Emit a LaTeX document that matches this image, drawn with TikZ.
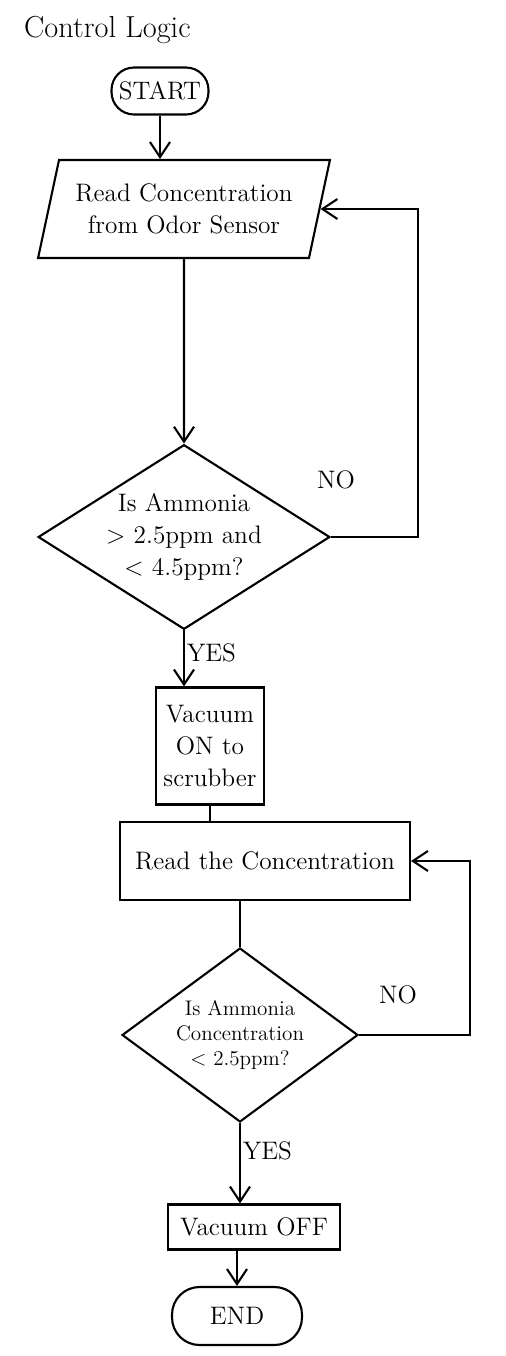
\documentclass[tikz,border=0pt]{standalone}
\usepackage{fontspec}
\usetikzlibrary{shapes.geometric,arrows.meta,positioning}
\begin{document}
\begin{tikzpicture}
[x=0.02cm,y=-0.02cm,%
  terminaldecorate/.style={shape=rectangle,draw,line width=1.2pt,font=\Large,inner sep=2pt},%
  iodecorate/.style={shape=trapezium,trapezium left angle=70,trapezium right angle=110,%
    trapezium stretches,draw,line width=1.2pt,font=\Large,align=center,inner sep=0pt},%
  processdecorate/.style={shape=rectangle,draw,line width=1.2pt,font=\Large,align=center,inner sep=2pt},%
  decisiondecorate/.style={shape=diamond,draw,line width=1.2pt,align=center,inner sep=0pt},%
  linedecorate/.style={-,line width=1.2pt},%
  arrowdecorate/.style={-{Straight Barb[length=3mm,width=4mm]},line width=1.2pt},%
  labeldecorate/.style={font=\Large,inner sep=1pt}]
\useasboundingbox (0,0) rectangle (505,1356);
%% title
\node (title) [anchor=west,font=\LARGE] at (18,30) {Control Logic};
%% nodes of the first loop
\node (start) [terminaldecorate,rounded corners=0.45cm,minimum width=1.94cm,minimum height=0.94cm]
  at (160,91) {START};
\node (readodor) [iodecorate,minimum width=5.84cm,minimum height=1.96cm]
  at (184,209) {Read Concentration\\from Odor Sensor};
\node (check1) [decisiondecorate,font=\Large,shape aspect=1.58,minimum width=5.74cm,minimum height=3.64cm]
  at (184,537) {Is Ammonia\\$>$ 2.5ppm and\\$<$ 4.5ppm?};
\coordinate (loop1) at (418,360);
\node (no1) [labeldecorate] at (336,480) {NO};
%% nodes of the second loop
\node (vacon) [processdecorate,minimum width=2.16cm,minimum height=2.34cm]
  at (210,746) {Vacuum\\ON to\\scrubber};
\node (readconc) [processdecorate,minimum width=5.8cm,minimum height=1.56cm]
  at (265,861) {Read the Concentration};
\node (check2) [decisiondecorate,font=\large,shape aspect=1.36,minimum width=4.72cm,minimum height=3.48cm]
  at (240,1035) {Is Ammonia\\Concentration\\$<$ 2.5ppm?};
\coordinate (loop2) at (470,940);
\node (no2) [labeldecorate] at (398,995) {NO};
%% last nodes
\node (vacoff) [processdecorate,minimum width=3.44cm,minimum height=0.9cm]
  at (254,1227) {Vacuum OFF};
\node (finish) [terminaldecorate,rounded corners=0.55cm,minimum width=2.6cm,minimum height=1.16cm]
  at (237,1316) {END};
%% connectors
\draw[arrowdecorate] (start.south) -- (start.south |- readodor.north);
\draw[arrowdecorate] (readodor.south) -- (check1.north);
\draw[arrowdecorate] (check1.east) -| (loop1) |- (readodor.east);
\draw[arrowdecorate] (check1.south) -- node[labeldecorate,right,pos=0.4] (yes1) {YES}
  (check1.south |- vacon.north);
\draw[linedecorate] (vacon.south) -- (vacon.south |- readconc.north);
\draw[linedecorate] (check2.north |- readconc.south) -- (check2.north);
\draw[arrowdecorate] (check2.east) -| (loop2) |- (readconc.east);
\draw[arrowdecorate] (check2.south) -- node[labeldecorate,right,pos=0.35] (yes2) {YES}
  (check2.south |- vacoff.north);
\draw[arrowdecorate] (finish.north |- vacoff.south) -- (finish.north);
\end{tikzpicture}
\end{document}
